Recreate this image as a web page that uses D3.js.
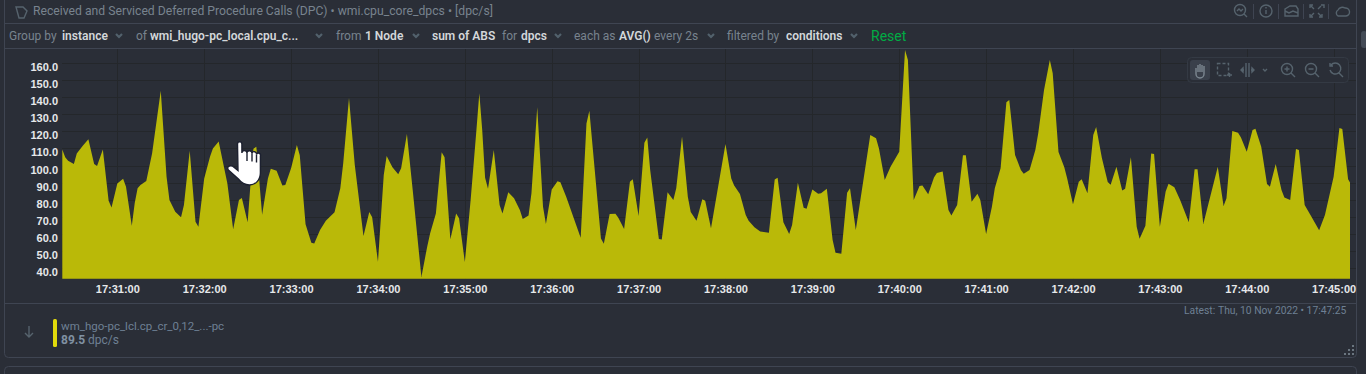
<!DOCTYPE html>
<html>
<head>
<meta charset="utf-8">
<title>DPC</title>
<script src="https://cdn.jsdelivr.net/npm/d3@7"></script>
<style>
html, body { margin: 0; padding: 0; background: #2a2e37; overflow: hidden; }
svg { display: block; font-family: Roboto, sans-serif; }
.grid line { stroke: #24272b; stroke-width: 1; }
.axis text { fill: #e6e8ea; font-size: 11px; font-weight: 700; }
.axis path, .axis line { display: none; }
.icon { fill: none; stroke: #56636d; stroke-width: 1.4; }
</style>
</head>
<body>
<script>
// sample number (one sample every 2s from 17:30:22) and dpc/s
var sampleIndex = [
  0,1,2,4,5,7,9,11,12,14,16,17,19,21,22,24,25,26,27,29,31,34,36,37,39,41,42,44,46,47,49,51,52,54,57,59,61,62,64,65,66,67,68,69,
  71,72,74,76,77,79,81,82,84,86,87,89,91,94,96,97,99,101,104,106,107,109,111,112,114,116,117,119,121,124,126,127,129,131,132,134,
  136,137,139,141,143,144,145,146,147,149,151,152,154,156,158,159,161,162,164,166,167,169,171,172,174,179,181,182,186,187,189,191,
  192,194,196,197,199,201,202,203,206,207,209,211,212,214,216,217,219,221,222,224,229,231,232,234,236,237,239,241,244,246,247,249,
  251,252,254,256,257,259,261,262,264,266,267,269,271,272,274,279,281,282,284,286,289,291,292,294,296,297,299,301,302,304,306,307,
  309,311,312,314,316,317,319,321,322,324,326,327,329,331,332,334,336,337,339,341,342,344,346,347,349,351,352,354,356,357,359,361,
  362,364,366,367,369,371,372,374,376,377,379,381,382,384,386,389,391,392,394,399,401,402,404,406,407,409,411,412,414,416,417,419,
  421,422,424,426,427,429,431,434,436,439,441,442,444,445
];
var dpcValues = [
  109.4,104.8,102.8,100.9,107,111.4,115.3,100.9,99.7,109.4,79.5,75.6,89.6,92.3,87.7,64.9,78,86.7,88.6,91,107,143.7,93.5,79.9,73.1,69.8,77,108.7,67.2,64.3,92.5,105.2,110,114.1,89.6,62.8,79.9,81,66.9,89.6,109.8,111,91.6,71.3,
  92.5,98.2,97,88.3,88.6,98.4,112,106,65.7,55,54.6,62.4,67.8,72.7,86.7,101.3,139.4,100.3,58.9,72.9,69.8,43.9,94.5,105.6,99,94.9,98.4,118.4,85.7,35,52.7,60.4,72.1,107.7,104.8,57,
  72.1,69.2,43.7,79.9,120.7,142.1,120.7,92.9,86.5,109,77,72.1,84.4,80.9,74,68.8,70.8,83.8,134,76,65.9,86.1,90.8,90.2,81.8,57.9,124.6,132,57.5,54.4,71.7,71.9,
  69.6,63,90.6,92,70.6,113.3,116.4,97.4,57.1,56.9,84.4,79.9,86.7,117,81.8,72.9,67.8,80.3,79.5,63.4,112.6,92.5,88.3,83.4,71.1,67.8,64,61.6,60.8,91.8,92.9,66.9,
  60.1,65.3,90,75.4,74.8,86.1,83.6,83.8,86.5,56.6,49.2,48.6,84.2,86.7,62.4,117.8,115.9,110,91.6,99.3,108.1,167.4,161.6,79.9,88,88.4,83.2,93.1,95.6,96.6,74,70.8,
  77,106,106,78.9,83.6,79.9,60.1,76,86.7,98.4,136.9,138.2,106.2,97.4,95.2,97.4,109,118.8,144,161.6,153.8,107.9,99,92.5,77.4,90.6,92,83.8,117.8,122.5,104.2,90.4,
  88.8,99.3,85.5,86.5,104.8,64.3,57.3,64.9,107.1,106.7,64.3,84.8,89.4,87.3,79.9,66.9,97.8,97.8,65.9,99.3,76.4,80.9,120.1,119.2,116.4,108.1,120.7,121.5,111,89.2,87.7,100.9,
  85.7,81.4,79.9,109.6,109,77,71.1,62.2,71.1,93.5,121.9,121.3,92,89.2
];
var yTickValues = [40,50,60,70,80,90,100,110,120,130,140,150,160];
var xTickLabels = ["17:31:00","17:32:00","17:33:00","17:34:00","17:35:00","17:36:00","17:37:00","17:38:00","17:39:00","17:40:00","17:41:00","17:42:00","17:43:00","17:44:00","17:45:00"];

var width = 1366, height = 374;
var bg = "#2a2e37", border = "#3f4552", dim = "#78838e", bright = "#d3d7da";

var svg = d3.select("body").append("svg").attr("width", width).attr("height", height);
svg.append("rect").attr("width", width).attr("height", height).attr("fill", bg);

var parseT = d3.timeParse("%H:%M:%S");
var fmtT = d3.timeFormat("%H:%M:%S");
var t0 = parseT("17:30:22");
var x = d3.scaleTime()
  .domain([t0, d3.timeSecond.offset(t0, 445 * 2)])
  .range([62.3, 1351]);
var y = d3.scaleLinear().domain([34, 167.4]).range([278.7, 50]);

// panels
svg.append("rect").attr("x", 4.5).attr("y", -10).attr("width", 1352).attr("height", 367.5).attr("rx", 4)
  .attr("fill", "none").attr("stroke", border);
svg.append("rect").attr("x", 4.5).attr("y", 366.5).attr("width", 1352).attr("height", 30).attr("rx", 4)
  .attr("fill", "none").attr("stroke", border);
[23.5, 48.5, 303.5].forEach(function(ly) {
  svg.append("line").attr("x1", 5).attr("x2", 1356).attr("y1", ly).attr("y2", ly).attr("stroke", border);
});
// scrollbar thumb
svg.append("rect").attr("x", 1361).attr("y", 31).attr("width", 6).attr("height", 17).attr("rx", 3).attr("fill", "#444b56");

// grid
var xTicks = xTickLabels.map(parseT);
var grid = svg.append("g").attr("class", "grid");
grid.selectAll(".h").data(yTickValues).enter().append("line")
  .attr("x1", 62).attr("x2", 1356)
  .attr("y1", function(d) { return Math.round(y(d)) + 0.5; })
  .attr("y2", function(d) { return Math.round(y(d)) + 0.5; });
grid.selectAll(".v").data(xTicks).enter().append("line")
  .attr("y1", 49).attr("y2", 279)
  .attr("x1", function(d) { return Math.round(x(d)) + 0.5; })
  .attr("x2", function(d) { return Math.round(x(d)) + 0.5; });

// area
svg.append("clipPath").attr("id", "plot").append("rect")
  .attr("x", 62).attr("y", 49).attr("width", 1288).attr("height", 230);
var area = d3.area()
  .x(function(d) { return x(d3.timeSecond.offset(t0, d * 2)); })
  .y0(y(34))
  .y1(function(d, i) { return y(dpcValues[i]); });
svg.append("path").datum(sampleIndex)
  .attr("clip-path", "url(#plot)")
  .attr("fill", "#bab908")
  .attr("d", area);

// axes
var yAxis = d3.axisLeft(y).tickValues(yTickValues).tickFormat(d3.format(".1f")).tickSize(0).tickPadding(0);
svg.append("g").attr("class", "axis").attr("transform", "translate(58,4)").call(yAxis);
var xAxis = d3.axisBottom(x).tickValues(xTicks).tickFormat(fmtT).tickSize(0).tickPadding(0);
svg.append("g").attr("class", "axis").attr("transform", "translate(0,285)").call(xAxis);

function label(sx, sy, txt, color, size, weight) {
  return svg.append("text").attr("x", sx).attr("y", sy).text(txt)
    .attr("fill", color).attr("font-size", size).attr("font-weight", weight || 400);
}

// title row
label(33, 15, "Received and Serviced Deferred Procedure Calls (DPC) • wmi.cpu_core_dpcs • [dpc/s]", dim, 12.2);
svg.append("path").attr("class", "icon").attr("d", "M16 7h7l4 4-3 7h-5z").attr("stroke", "#48525b");

// query row
var queryParts = [
  [9, "Group by", dim], [62, "instance", bright, 600],
  [136, "of", dim], [150, "wmi_hugo-pc_local.cpu_c...", bright, 600],
  [336, "from", dim], [365, "1 Node", bright, 600],
  [432, "sum of ABS", bright, 600], [502, "for", dim], [521, "dpcs", bright, 600],
  [574, "each as", dim], [619, "AVG()", bright, 600], [654, "every 2s", dim],
  [727, "filtered by", dim], [786, "conditions", bright, 600]
];
queryParts.forEach(function(p) { label(p[0], 40, p[1], p[2], 12, p[3]); });
label(871, 41, "Reset", "#00ab44", 14);
[119, 319, 416, 558, 711, 854].forEach(function(cx) {
  svg.append("path").attr("d", "M" + (cx - 3) + " 34l3 3 3-3").attr("fill", "none")
    .attr("stroke", "#52616c").attr("stroke-width", 2.2);
});

// title icons
var ic = svg.append("g").attr("class", "icon").attr("stroke-width", 1.2);
ic.append("circle").attr("cx", 1240).attr("cy", 10).attr("r", 5.5);
ic.append("path").attr("d", "M1244 14l3 3M1237 11l2-2 2 2 2-2");
ic.append("circle").attr("cx", 1266).attr("cy", 11).attr("r", 6);
ic.append("path").attr("d", "M1266 10v4M1266 7v1.5");
ic.append("path").attr("d", "M1285 9l5-3 6 0 2 3v7h-13zM1285 11l4 2 4-2 5 2");
ic.append("path").attr("d", "M1310 8v-3h3M1321 5h3v3M1310 14v3h3M1322 14v3h-3M1311 6l3 3M1321 6l-3 3M1311 16l3-3M1321 16l-3-3");
ic.append("path").attr("d", "M1338 16a3.500 3.500 0 0 1 0-6a5 5 0 0 1 7-2a3 3 0 0 1 1 8z");
[1253.5, 1278.5, 1303.5, 1328.5].forEach(function(sx) {
  svg.append("line").attr("x1", sx).attr("x2", sx).attr("y1", 4).attr("y2", 19).attr("stroke", border);
});

// toolbox over the plot
svg.append("rect").attr("x", 1187.5).attr("y", 57.5).attr("width", 161).attr("height", 25).attr("rx", 4)
  .attr("fill", bg).attr("stroke", "#343a44");
svg.append("rect").attr("x", 1190).attr("y", 60).attr("width", 20).attr("height", 20).attr("rx", 3).attr("fill", "#3a404b");
var tb = svg.append("g").attr("class", "icon").attr("stroke", "#465059").attr("stroke-width", 1.2);
tb.append("path").attr("stroke", "#7c8791").attr("d", "M1196 68v6a4 4 0 0 0 8 0v-8M1198 72v-7M1200 72v-8M1202 72v-7");
tb.append("rect").attr("x", 1217.5).attr("y", 63.5).attr("width", 11).attr("height", 12).attr("stroke-dasharray", "3 2");
tb.append("path").attr("d", "M1227 75h5M1229.5 73v4");
tb.append("path").attr("d", "M1246 63v14M1249 63v14M1244 70h-3M1251 70h3M1241 70l2-2v4zM1254 70l-2-2v4z");
tb.append("path").attr("d", "M1263 69l2 2 2-2");
tb.append("circle").attr("cx", 1287).attr("cy", 69).attr("r", 5.5);
tb.append("path").attr("d", "M1291 73l4 4M1284.5 69h5M1287 66.500v5");
tb.append("circle").attr("cx", 1311).attr("cy", 69).attr("r", 5.5);
tb.append("path").attr("d", "M1315 73l4 4M1308.500 69h5");
tb.append("path").attr("d", "M1331 65a5.500 5.500 0 1 1 -1 5M1339 73l4 4M1330 63v3h3");

// hand cursor
svg.append("path")
  .attr("d", "M237.500 144a2.200 2.200 0 0 1 4.400 0v9a2.500 2.500 0 0 1 5 0a2.500 2.500 0 0 1 5 .500a2.300 2.300 0 0 1 4.500 1a2 2 0 0 1 4 1.500v17c0 7-5 12-11 12c-5 0-8-2-11-6l-10-9c-2-3 1-5 4-4l5.600 4.500z")
  .attr("fill", "#fff").attr("stroke", "#1d2130").attr("stroke-width", 1.4);
svg.append("path").attr("d", "M247 153v8M252 153.500v8M256.500 154.500v8").attr("stroke", "#1d2130").attr("stroke-width", 1.4).attr("fill", "none");

// legend
svg.append("path").attr("class", "icon").attr("d", "M29 326v11M25 333l4 4 4-4");
svg.append("rect").attr("x", 53).attr("y", 319).attr("width", 4).attr("height", 28).attr("rx", 1.5).attr("fill", "#e1da0c");
label(61, 330, "wm_hgo-pc_lcl.cp_cr_0,12_...-pc", "#6e8094", 11.5);
label(61, 344, "89.5", "#8091a2", 12, 700);
label(88, 344, "dpc/s", "#6e8094", 12);
label(1184, 314, "Latest:", "#6e8094", 10.3);
label(1218, 314, "Thu, 10 Nov 2022 • 17:47:25", "#6e8094", 10.3);
[[1352, 345], [1348, 349], [1352, 349], [1344, 353], [1348, 353], [1352, 353]].forEach(function(p) {
  svg.append("rect").attr("x", p[0]).attr("y", p[1]).attr("width", 2).attr("height", 2).attr("fill", "#6b7680");
});
</script>
</body>
</html>
